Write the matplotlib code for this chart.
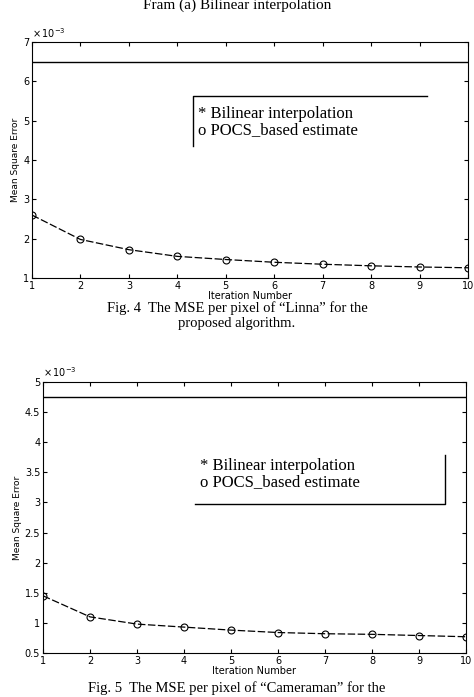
import matplotlib

matplotlib.use("Agg")
import matplotlib.pyplot as plt

iters = [1, 2, 3, 4, 5, 6, 7, 8, 9, 10]
# MSE values in units of 1e-3
linna_mse = [2.6, 1.98, 1.72, 1.55, 1.47, 1.40, 1.35, 1.31, 1.28, 1.26]
camera_mse = [1.45, 1.10, 0.98, 0.93, 0.88, 0.84, 0.82, 0.81, 0.79, 0.77]
legend_lines = ["* Bilinear interpolation", "o POCS_based estimate"]

SERIF = "Liberation Serif"
W, H = 474, 697
fig = plt.figure(figsize=(W / 100, H / 100), dpi=100)


def px(x0, y0, x1, y1):
    return [x0 / W, 1 - y1 / H, (x1 - x0) / W, (y1 - y0) / H]


def panel(rect, y, ylim, yticks, hline, ylabel):
    ax = fig.add_axes(rect)
    ax.plot(iters, y, "--", color="black", lw=0.9, marker="o", ms=5,
            mfc="none", mew=0.8, dashes=(6, 2))
    ax.set_xlim(1, 10)
    ax.set_ylim(*ylim)
    ax.set_xticks(iters)
    ax.set_yticks(yticks)
    ax.set_yticklabels([f"{t:g}" for t in yticks])
    ax.tick_params(labelsize=7, direction="in", length=3, top=True, right=True, pad=2)
    ax.axhline(hline, color="black", lw=1)
    ax.set_xlabel("Iteration Number", fontsize=7, labelpad=0)
    ax.set_ylabel(ylabel, fontsize=6.5, labelpad=2)
    ax.text(0.0, 1.01, r"$\times\,10^{-3}$", transform=ax.transAxes, fontsize=7,
            va="bottom", ha="left")
    for s in ax.spines.values():
        s.set_linewidth(0.8)
    return ax


fig.text(0.5, 1 - 5 / H, "Fram (a) Bilinear interpolation", family=SERIF, fontsize=11,
         ha="center", va="center")

ax1 = panel(px(32, 42, 468, 278), linna_mse, (1, 7), [1, 2, 3, 4, 5, 6, 7], 6.5,
            "Mean Square Error")
ax1.text(0.38, 0.66, "\n".join(legend_lines), transform=ax1.transAxes,
         family=SERIF, fontsize=12, va="center", linespacing=1.05)
ax1.plot([0.37, 0.37, 0.905], [0.56, 0.77, 0.77], transform=ax1.transAxes,
         color="black", lw=1, clip_on=False)

fig.text(0.5, 1 - 316 / H, "Fig. 4  The MSE per pixel of \u201cLinna\u201d for the\nproposed algorithm.",
         family=SERIF, fontsize=10.5, ha="center", va="center", linespacing=1.2)

ax2 = panel(px(43, 382, 466, 653), camera_mse, (0.5, 5),
            [0.5, 1, 1.5, 2, 2.5, 3, 3.5, 4, 4.5, 5], 4.75, "Mean Square Error")
ax2.text(0.37, 0.66, "\n".join(legend_lines), transform=ax2.transAxes,
         family=SERIF, fontsize=12, va="center", linespacing=1.05)
ax2.plot([0.36, 0.95, 0.95], [0.55, 0.55, 0.73], transform=ax2.transAxes,
         color="black", lw=1, clip_on=False)

fig.text(0.5, 1 - 688 / H, "Fig. 5  The MSE per pixel of \u201cCameraman\u201d for the",
         family=SERIF, fontsize=10.5, ha="center", va="center")

fig.savefig("out.png", dpi=100)
